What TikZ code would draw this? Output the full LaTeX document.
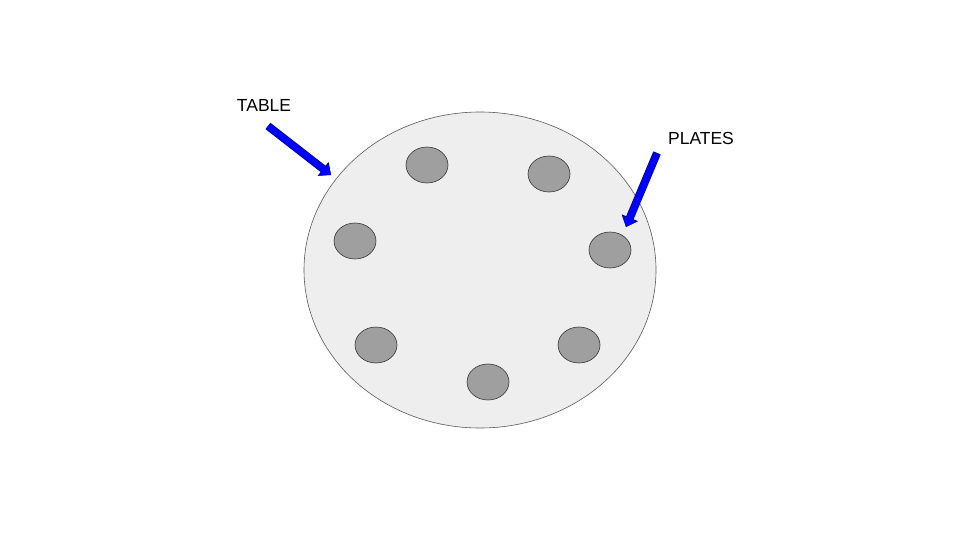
\documentclass[tikz,border=0pt]{standalone}
\usepackage{fontspec}
\setmainfont{Liberation Sans}
\usetikzlibrary{arrows.meta,positioning,shapes.geometric}

\begin{document}
\begin{tikzpicture}[x=1pt,y=-1pt,
    tbl/.style={ellipse, draw=gray!70!black, fill=gray!13, line width=0.6pt,
        minimum width=352pt, minimum height=316pt, inner sep=0pt},
    plate/.style={ellipse, draw=gray!40!black, fill=gray!75, line width=0.6pt,
        minimum width=42pt, minimum height=36pt, inner sep=0pt},
    lbl/.style={font=\fontsize{17.5pt}{20pt}\selectfont, inner sep=1pt},
    ptr/.style={draw=blue, line width=6.5pt, -{Triangle[length=9pt,width=15pt]},
        preaction={draw=blue!45!black, line width=8pt, -{Triangle[length=10pt,width=17pt]}}},
    ]
\useasboundingbox (0,0) rectangle (960,540);

\node[tbl] (table) at (480,270) {};

% plates round the table
\foreach \x/\y [count=\n] in {427/165, 549/174, 355/241, 610/250, 376/345, 579/345, 488/382}
    \node[plate] (plate-\n) at (\x,\y) {};

\node[lbl] (tablelbl) at (264,105) {TABLE};
\node[lbl] (plateslbl) at (701,138) {PLATES};

\coordinate (tabletail) at (268,126);
\coordinate (tabletip) at (331,175);
\coordinate (platestail) at (657,153);
\coordinate (platestip) at (626,227);

\draw[ptr] (tabletail) -- (tabletip);
\draw[ptr] (platestail) -- (platestip);

\end{tikzpicture}
\end{document}
